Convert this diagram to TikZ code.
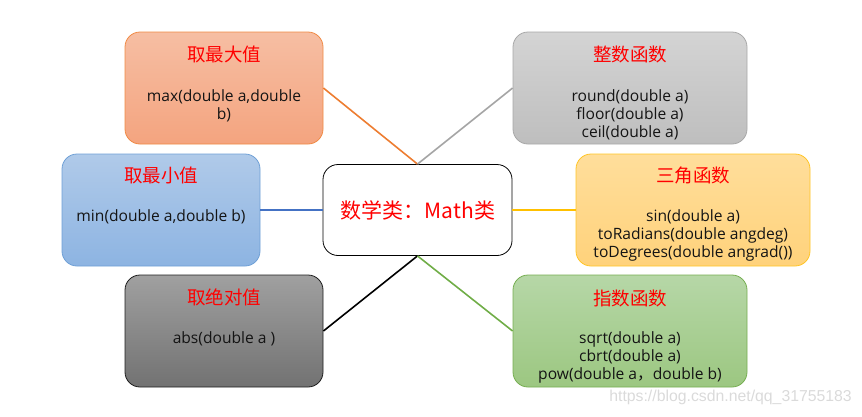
\documentclass[tikz,border=0pt]{standalone}
\usepackage{fontspec}
\setmainfont{Open Sans}
\newfontfamily\cjk{Noto Sans CJK SC}
\newfontfamily\wmfont{Liberation Sans}
\definecolor{titlered}{HTML}{FF0000}
\definecolor{bodytxt}{HTML}{141414}
\definecolor{orbrd}{HTML}{F08A45}
\definecolor{ortop}{HTML}{F6BEA3}
\definecolor{orbot}{HTML}{F4A47F}
\definecolor{blbrd}{HTML}{6FA0D6}
\definecolor{bltop}{HTML}{B0CAE9}
\definecolor{blbot}{HTML}{8DB4E2}
\definecolor{dgbrd}{HTML}{1E1E1E}
\definecolor{dgtop}{HTML}{A0A0A0}
\definecolor{dgbot}{HTML}{727272}
\definecolor{lgbrd}{HTML}{A8A8A8}
\definecolor{lgtop}{HTML}{D4D4D4}
\definecolor{lgbot}{HTML}{BEBEBE}
\definecolor{yebrd}{HTML}{FFC526}
\definecolor{yetop}{HTML}{FFDE9B}
\definecolor{yebot}{HTML}{FFD27B}
\definecolor{grbrd}{HTML}{76AE51}
\definecolor{grtop}{HTML}{B6D7A7}
\definecolor{grbot}{HTML}{9CC781}
\definecolor{lnor}{HTML}{ED7D31}
\definecolor{lngy}{HTML}{A5A5A5}
\definecolor{lnbl}{HTML}{4472C4}
\definecolor{lnye}{HTML}{FFC000}
\definecolor{lngr}{HTML}{70AD47}
\definecolor{wm}{HTML}{DADADA}
\tikzset{
  box/.style={rectangle, rounded corners=15pt, inner sep=0pt, line width=0.8pt},
  ttl/.style={font=\cjk\fontsize{18.5}{21}\selectfont, text=titlered, inner sep=0pt},
  bodyt/.style={font=\fontsize{15.6}{18}\selectfont, text=bodytxt, align=center, inner sep=0pt},
  conn/.style={line width=1.6pt},
}
\begin{document}
\begin{tikzpicture}[x=1pt,y=-1pt]
\useasboundingbox (0,0) rectangle (862,416);
% center
\node[box, draw=black, fill=white, minimum width=189pt, minimum height=91pt] (c) at (417.5,210) {};
\node[font=\cjk\fontsize{21}{24}\selectfont, text=titlered, inner sep=0pt] (ct) at (418,210) {数学类：Math类};
% boxes
\node[box, draw=orbrd, top color=ortop, bottom color=orbot, minimum width=198pt, minimum height=112pt] (tl) at (224,88) {};
\node[box, draw=lgbrd, top color=lgtop, bottom color=lgbot, minimum width=234pt, minimum height=112pt] (tr) at (630,88) {};
\node[box, draw=blbrd, top color=bltop, bottom color=blbot, minimum width=198pt, minimum height=112pt] (ml) at (161,210) {};
\node[box, draw=yebrd, top color=yetop, bottom color=yebot, minimum width=234pt, minimum height=112pt] (mr) at (693,210) {};
\node[box, draw=dgbrd, top color=dgtop, bottom color=dgbot, minimum width=198pt, minimum height=112pt] (bl) at (224,331) {};
\node[box, draw=grbrd, top color=grtop, bottom color=grbot, minimum width=234pt, minimum height=112pt] (br) at (630,331) {};
% titles
\node[ttl] (tlt) at (224,54) {取最大值};
\node[ttl] (trt) at (630,54) {整数函数};
\node[ttl] (mlt) at (161,175) {取最小值};
\node[ttl] (mrt) at (693,176) {三角函数};
\node[ttl] (blt) at (224,297) {取绝对值};
\node[ttl] (brt) at (630,298) {指数函数};
% bodies
\node[bodyt] (tlb) at (224,106) {max(double a,double\\b)};
\node[bodyt] (trb) at (630,114.5) {round(double a)\\floor(double a)\\ceil(double a)};
\node[bodyt] (mlb) at (161,217) {min(double a,double b)};
\node[bodyt] (mrb) at (693,235.5) {sin(double a)\\toRadians(double angdeg)\\toDegrees(double angrad())};
\node[bodyt] (blb) at (224,339) {abs(double a )};
\node[bodyt] (brb) at (630,357.5) {sqrt(double a)\\cbrt(double a)\\pow(double a{\cjk ，}double b)};
% connectors
\draw[conn, lnor] (tl.east) -- (c.north);
\draw[conn, lngy] (tr.west) -- (c.north);
\draw[conn, lnbl] (ml.east) -- (c.west);
\draw[conn, lnye] (mr.west) -- (c.east);
\draw[conn, black] (bl.east) -- (c.south);
\draw[conn, lngr] (br.west) -- (c.south);
% watermark
\node[font=\wmfont\fontsize{15.8}{18}\selectfont, text=wm, anchor=east, inner sep=0pt] (wmk) at (852,397) {https://blog.csdn.net/qq\_31755183};
\end{tikzpicture}
\end{document}
